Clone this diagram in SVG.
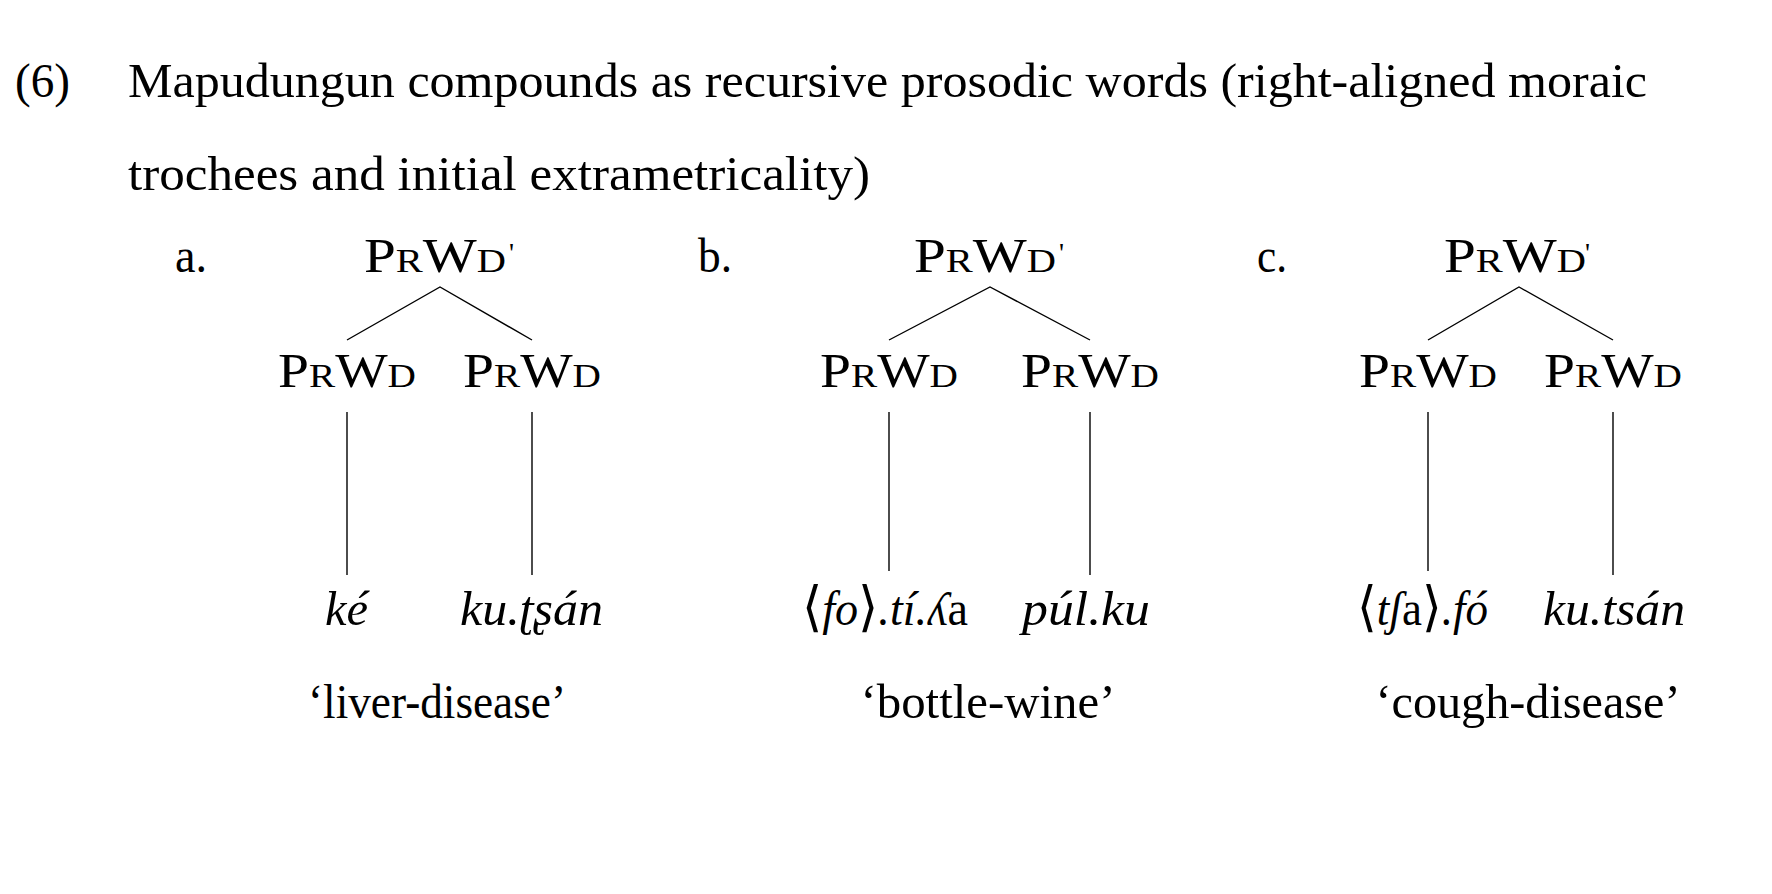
<svg xmlns="http://www.w3.org/2000/svg" width="1772" height="894" viewBox="0 0 1772 894">
<style>
text{font-family:"Liberation Serif","DejaVu Serif",serif;fill:#000;font-size:48px}
.sc{font-variant:small-caps}
.it{font-style:italic}
.up{font-style:normal}
.br{font-style:normal;font-size:54px}
.pr{font-size:28px}
.edge{stroke:#000;stroke-width:1.4;fill:none}
</style>
<rect width="1772" height="894" fill="#fff"/>
<g id="heading">
<text x="15" y="97" textLength="55" lengthAdjust="spacingAndGlyphs">(6)</text>
<text x="128" y="97" textLength="1519" lengthAdjust="spacingAndGlyphs">Mapudungun compounds as recursive prosodic words (right-aligned moraic</text>
<text x="128" y="190" textLength="742" lengthAdjust="spacingAndGlyphs">trochees and initial extrametricality)</text>
</g>
<g id="connectors">
<polyline class="edge" points="347,340 440,287 532,340"/>
<line class="edge" x1="347" y1="412" x2="347" y2="575"/>
<line class="edge" x1="532" y1="412" x2="532" y2="575"/>
<polyline class="edge" points="889,340 990,287 1090,340"/>
<line class="edge" x1="889" y1="412" x2="889" y2="571"/>
<line class="edge" x1="1090" y1="412" x2="1090" y2="575"/>
<polyline class="edge" points="1428,340 1519,287 1613,340"/>
<line class="edge" x1="1428" y1="412" x2="1428" y2="571"/>
<line class="edge" x1="1613" y1="412" x2="1613" y2="575"/>
</g>
<g id="tree-a">
<text x="175" y="272" textLength="32" lengthAdjust="spacingAndGlyphs">a.</text>
<g id="a-root"><text class="sc" x="364" y="272" textLength="142" lengthAdjust="spacingAndGlyphs">PrWd</text><text class="pr" x="509" y="262">'</text></g>
<g id="a-left"><text class="sc" x="347" y="387" text-anchor="middle" textLength="138" lengthAdjust="spacingAndGlyphs">PrWd</text></g>
<g id="a-right"><text class="sc" x="532" y="387" text-anchor="middle" textLength="138" lengthAdjust="spacingAndGlyphs">PrWd</text></g>
<g id="a-w1"><text class="it" x="325" y="625" textLength="43" lengthAdjust="spacingAndGlyphs">ké</text></g>
<g id="a-w2"><text class="it" x="460" y="625" textLength="143" lengthAdjust="spacingAndGlyphs">ku.ʈʂán</text></g>
<g id="a-gloss"><text x="437" y="718" text-anchor="middle" textLength="258" lengthAdjust="spacingAndGlyphs">‘liver-disease’</text></g>
</g>
<g id="tree-b">
<text x="698" y="272" textLength="34" lengthAdjust="spacingAndGlyphs">b.</text>
<g id="b-root"><text class="sc" x="914" y="272" textLength="142" lengthAdjust="spacingAndGlyphs">PrWd</text><text class="pr" x="1059" y="262">'</text></g>
<g id="b-left"><text class="sc" x="889" y="387" text-anchor="middle" textLength="138" lengthAdjust="spacingAndGlyphs">PrWd</text></g>
<g id="b-right"><text class="sc" x="1090" y="387" text-anchor="middle" textLength="138" lengthAdjust="spacingAndGlyphs">PrWd</text></g>
<g id="b-w1"><text class="it" x="802" y="625" textLength="166" lengthAdjust="spacingAndGlyphs"><tspan class="br">⟨</tspan>fo<tspan class="br">⟩</tspan>.tí.ʎ<tspan class="up">a</tspan></text></g>
<g id="b-w2"><text class="it" x="1022" y="625" textLength="128" lengthAdjust="spacingAndGlyphs">púl.ku</text></g>
<g id="b-gloss"><text x="988" y="718" text-anchor="middle" textLength="255" lengthAdjust="spacingAndGlyphs">‘bottle-wine’</text></g>
</g>
<g id="tree-c">
<text x="1257" y="272" textLength="30" lengthAdjust="spacingAndGlyphs">c.</text>
<g id="c-root"><text class="sc" x="1444" y="272" textLength="142" lengthAdjust="spacingAndGlyphs">PrWd</text><text class="pr" x="1585" y="262">'</text></g>
<g id="c-left"><text class="sc" x="1428" y="387" text-anchor="middle" textLength="138" lengthAdjust="spacingAndGlyphs">PrWd</text></g>
<g id="c-right"><text class="sc" x="1613" y="387" text-anchor="middle" textLength="138" lengthAdjust="spacingAndGlyphs">PrWd</text></g>
<g id="c-w1"><text class="it" x="1357" y="625" textLength="131" lengthAdjust="spacingAndGlyphs"><tspan class="br">⟨</tspan>tʃ<tspan class="up">a</tspan><tspan class="br">⟩</tspan>.fó</text></g>
<g id="c-w2"><text class="it" x="1543" y="625" textLength="142" lengthAdjust="spacingAndGlyphs">ku.tsán</text></g>
<g id="c-gloss"><text x="1528" y="718" text-anchor="middle" textLength="305" lengthAdjust="spacingAndGlyphs">‘cough-disease’</text></g>
</g>
</svg>
